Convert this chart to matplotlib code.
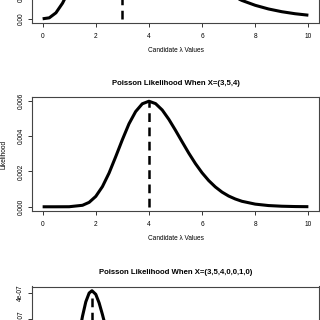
import matplotlib
matplotlib.use("Agg")
import matplotlib.pyplot as plt

plt.rcParams['font.family'] = ['Liberation Sans', 'DejaVu Sans']

# --- valores ---
# panel de arriba, X=(3)
lam1 = [0, 0.25, 0.5, 0.75, 1, 1.5, 2, 2.5, 3, 3.5, 4, 4.5, 5, 5.5, 6, 6.5, 7, 7.5, 8, 8.5, 9, 9.5, 10]
lik1 = [0, 0.002, 0.0126, 0.0332, 0.0613, 0.1255, 0.1804, 0.2138, 0.224, 0.2158, 0.1954, 0.1687,
        0.1404, 0.1133, 0.0892, 0.0688, 0.0521, 0.0389, 0.0286, 0.0208, 0.015, 0.0107, 0.0076]
mle1, peak1 = 3, 0.224

# panel del medio, X=(3,5,4)
lam2 = [0, 0.5, 1, 1.5, 1.75, 2, 2.25, 2.5, 2.75, 3, 3.25, 3.5, 3.75, 4, 4.25, 4.5, 4.75, 5,
        5.25, 5.5, 5.75, 6, 6.25, 6.5, 6.75, 7, 7.25, 7.5, 8, 8.5, 9, 9.5, 10]
lik2 = [0, 0, 0.000003, 0.000084, 0.00025, 0.000587, 0.00114, 0.001906, 0.00283, 0.00379,
        0.00469, 0.00538, 0.00582, 0.005965, 0.00583, 0.00547, 0.00494, 0.00432, 0.00367,
        0.00303, 0.00244, 0.00192, 0.00148, 0.00112, 0.00083, 0.000607, 0.00044, 0.00031,
        0.00015, 0.000069, 0.000031, 0.000013, 0.0000054]
mle2, peak2 = 4, 0.005965

# panel de abajo, X=(3,5,4,0,0,1,0)
lam3 = [0, 0.5, 0.75, 1, 1.25, 1.375, 1.5, 1.625, 1.75, 1.857, 2, 2.125, 2.25, 2.5, 2.75,
        3, 3.5, 4, 5, 6, 7, 8, 9, 10]
lik3 = [0, 2e-10, 7.2e-9, 5.3e-8, 1.67e-7, 2.4e-7, 3.1e-7, 3.66e-7, 4.0e-7, 4.09e-7, 3.95e-7,
        3.62e-7, 3.17e-7, 2.17e-7, 1.3e-7, 7.0e-8, 1.57e-8, 2.7e-9, 0, 0, 0, 0, 0, 0]
mle3, peak3 = 13 / 7, 4.09e-7

xticks = [0, 2, 4, 6, 8, 10]
titles = ["Poisson Likelihood When X=(3)", "Poisson Likelihood When X=(3,5,4)",
          "Poisson Likelihood When X=(3,5,4,0,0,1,0)"]
yticks = [[0.00, 0.05, 0.10, 0.15, 0.20], [0.000, 0.002, 0.004, 0.006],
          [0, 1e-07, 2e-07, 3e-07, 4e-07]]
ylabs = [["0.00", "0.05", "0.10", "0.15", "0.20"], ["0.000", "0.002", "0.004", "0.006"],
         ["0e+00", "1e-07", "2e-07", "3e-07", "4e-07"]]

fig = plt.figure(figsize=(3.2, 3.2), dpi=100)

H = 114 / 320.0
bottoms = [1 - 23 / 320.0, 1 - 211 / 320.0, 1 - 400.5 / 320.0]
datos = [(lam1, lik1, mle1, peak1), (lam2, lik2, mle2, peak2), (lam3, lik3, mle3, peak3)]

for i in range(3):
    lam, lik, mle, peak = datos[i]
    ax = fig.add_axes([32 / 320.0, bottoms[i], 287 / 320.0, H])
    ax.plot(lam, lik, color='k', lw=2.2, solid_capstyle='butt')
    ax.plot([mle, mle], [0, peak], color='k', lw=1.8, linestyle=(0, (3.5, 2.2)))
    top = max(lik)
    ax.set_xlim(-0.4, 10.4)
    ax.set_ylim(-0.04 * top, top * 1.04)
    ax.set_xticks(xticks)
    ax.set_xticklabels([str(t) for t in xticks])
    ax.set_yticks(yticks[i])
    ax.set_yticklabels(ylabs[i], rotation=90, va='center')
    ax.tick_params(labelsize=4.7, length=3, width=0.7, color='#333333', direction='out')
    ax.tick_params(axis='x', pad=4)
    ax.tick_params(axis='y', pad=2.5)
    for s in ax.spines.values():
        s.set_linewidth(0.8)
        s.set_color('#444444')
    ax.set_xlabel("Candidate λ Values", fontsize=4.7)
    ax.xaxis.set_label_coords(0.5, -0.21)
    ax.set_ylabel("Likelihood", fontsize=4.7)
    ax.yaxis.set_label_coords(-0.085, 0.5)
    ax.text(0.5, 1 + 14 / 114.0, titles[i], transform=ax.transAxes, ha='center', va='center',
            fontsize=5.6, fontweight='bold')

fig.savefig("out.png", dpi=100)
